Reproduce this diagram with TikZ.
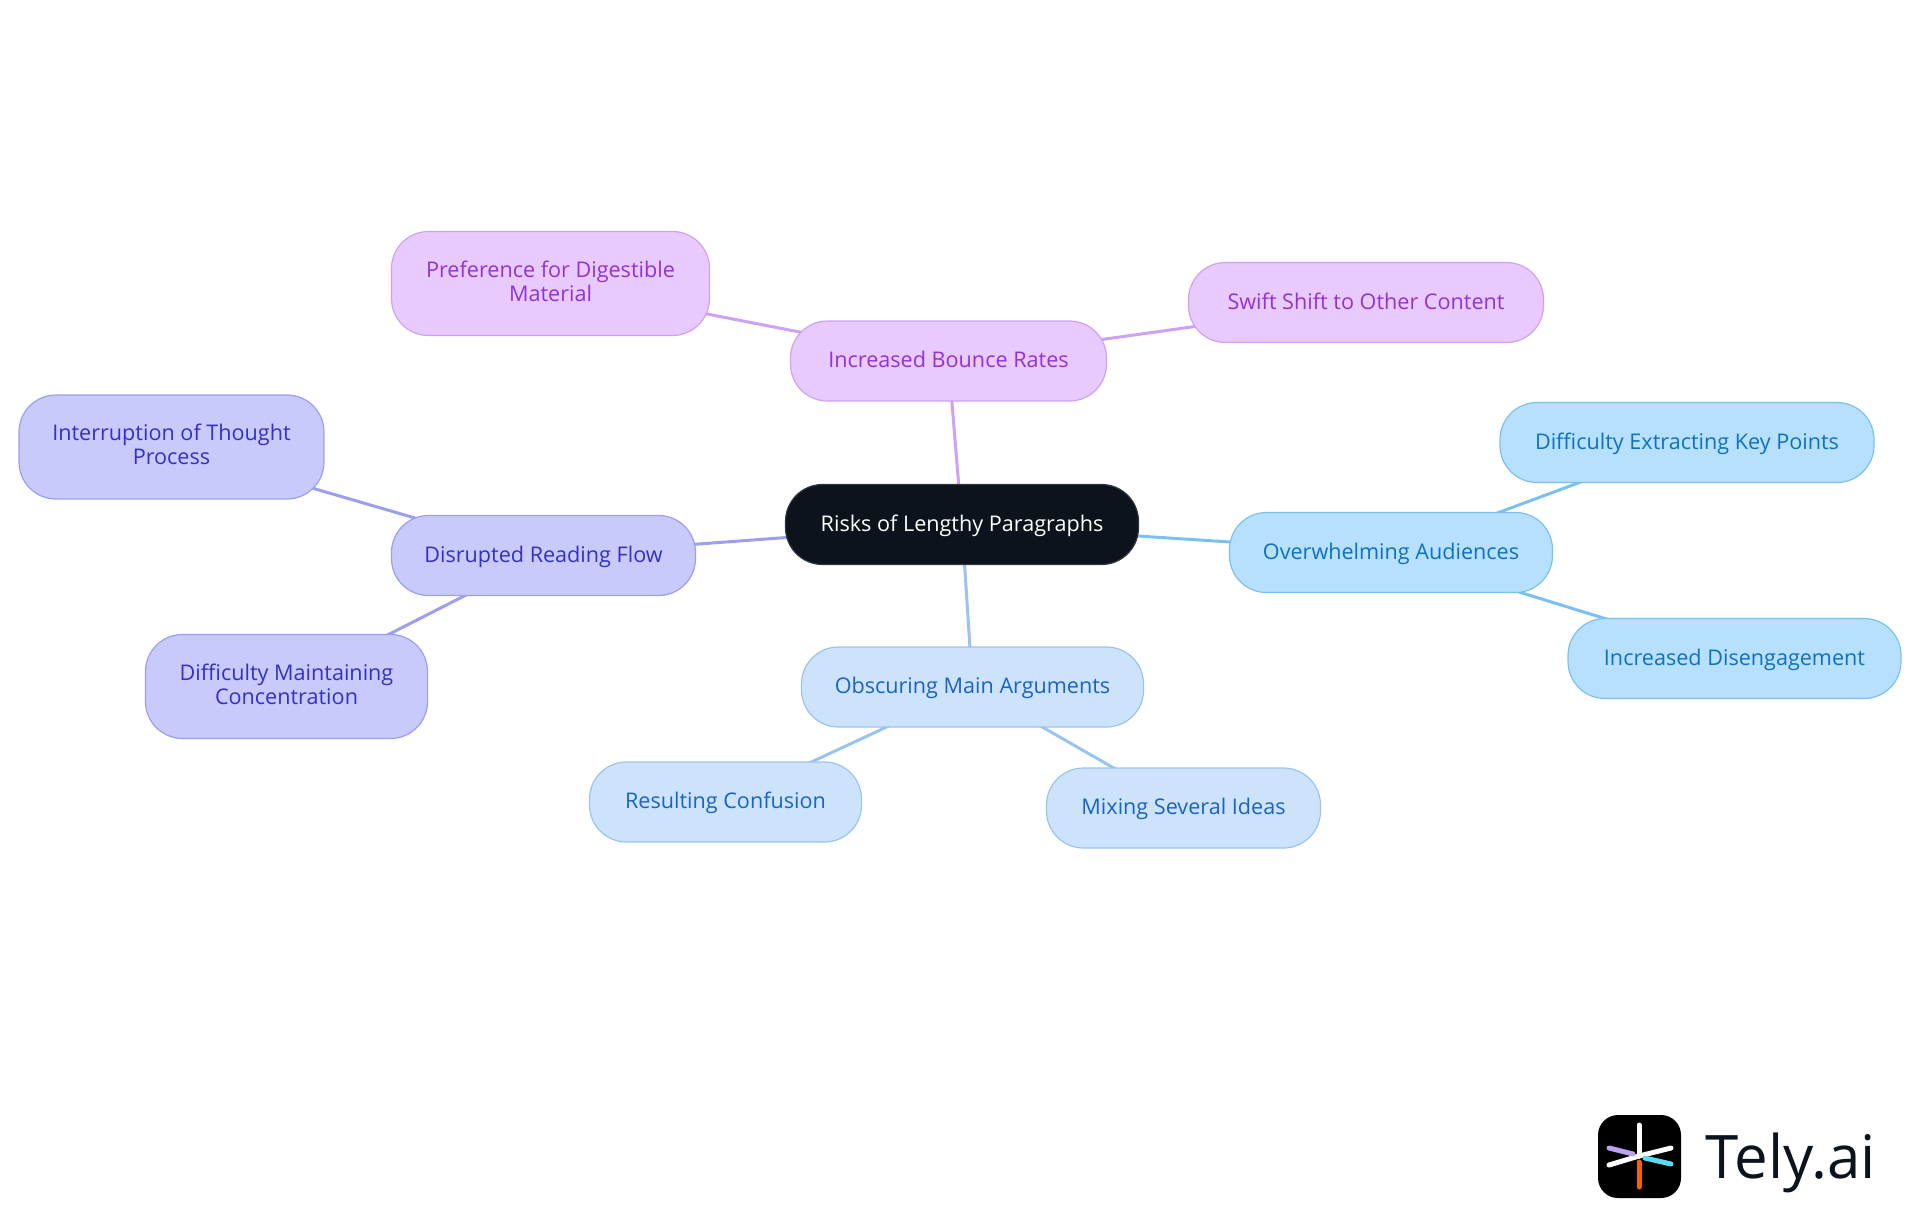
\documentclass[tikz,border=0pt]{standalone}
\usepackage{xcolor}
\usepackage{fontspec}
\setmainfont{Open Sans}
\usepackage{tikz}
\usetikzlibrary{backgrounds}
\definecolor{inkc}{HTML}{0C131C}
\definecolor{pinkbg}{HTML}{E8CAFF}
\definecolor{pinkln}{HTML}{CDA2F4}
\definecolor{pinktx}{HTML}{9333D6}
\definecolor{indbg}{HTML}{C8CAFC}
\definecolor{indln}{HTML}{9C9EF0}
\definecolor{indtx}{HTML}{3430C8}
\definecolor{skybg}{HTML}{B6E0FD}
\definecolor{skyln}{HTML}{7CC0F2}
\definecolor{skytx}{HTML}{0F72C0}
\definecolor{blubg}{HTML}{CDE3FC}
\definecolor{bluln}{HTML}{9AC4F0}
\definecolor{blutx}{HTML}{1A64C4}
\definecolor{lilac}{HTML}{B9A3F0}
\definecolor{aqua}{HTML}{5ADCEF}
\definecolor{ember}{HTML}{F2600F}
\newcommand{\tstrut}{\rule[-2.7pt]{0pt}{12pt}}
\tikzset{
  mm/.style={rounded corners=18.5pt,line width=.6pt,align=center,inner sep=0pt,font=\fontsize{10.8}{12}\selectfont,execute at begin node=\tstrut,execute at end node=\tstrut},
  wh/.style 2 args={minimum width=#1*.5pt,minimum height=#2*.5pt},
  twolines/.style={execute at begin node={\rule{0pt}{10.5pt}}},
  rootn/.style={mm,draw=inkc!85!white,fill=inkc,text=white},
  pinkn/.style={mm,draw=pinkln,fill=pinkbg,text=pinktx},
  indn/.style={mm,draw=indln,fill=indbg,text=indtx},
  skyn/.style={mm,draw=skyln,fill=skybg,text=skytx},
  blun/.style={mm,draw=bluln,fill=blubg,text=blutx},
  pinkl/.style={line width=1.5pt,pinkln},
  indl/.style={line width=1.5pt,indln},
  skyl/.style={line width=1.5pt,skyln},
  blul/.style={line width=1.5pt,bluln},
  arm/.style={line width=2.5pt,line cap=round,white}
}
\begin{document}
\begin{tikzpicture}[x=.5pt,y=-.5pt]
\useasboundingbox (0,0) rectangle (1920,1215);
\node[rootn,wh={353}{80}] (risks) at (962,524.5) {Risks of Lengthy Paragraphs};
\node[pinkn,wh={316}{80}] (bounce) at (948.5,361) {Increased Bounce Rates};
\node[pinkn,twolines,wh={318}{104}] (digest) at (550.5,283.5) {Preference for Digestible\\Material};
\node[pinkn,wh={355}{80}] (swift) at (1366,302.5) {Swift Shift to Other Content};
\node[indn,wh={304}{80}] (flow) at (543.5,555.5) {Disrupted Reading Flow};
\node[indn,twolines,wh={305}{104}] (thought) at (171.5,447) {Interruption of Thought\\Process};
\node[indn,twolines,wh={282}{104}] (concen) at (286.5,686.5) {Difficulty Maintaining\\Concentration};
\node[skyn,wh={323}{80}] (overw) at (1391,552.5) {Overwhelming Audiences};
\node[skyn,wh={374}{80}] (keypts) at (1687,442.5) {Difficulty Extracting Key Points};
\node[skyn,wh={333}{80}] (diseng) at (1734.5,658.5) {Increased Disengagement};
\node[blun,wh={342}{80}] (obscure) at (972.5,687) {Obscuring Main Arguments};
\node[blun,wh={272}{80}] (confus) at (725.5,802) {Resulting Confusion};
\node[blun,wh={274}{80}] (mixing) at (1183.5,808) {Mixing Several Ideas};
\begin{scope}[on background layer]
\draw[pinkl] (risks.center) -- (bounce.center);
\draw[pinkl] (bounce.center) -- (digest.center);
\draw[pinkl] (bounce.center) -- (swift.center);
\draw[indl] (risks.center) -- (flow.center);
\draw[indl] (flow.center) -- (thought.center);
\draw[indl] (flow.center) -- (concen.center);
\draw[skyl] (risks.center) -- (overw.center);
\draw[skyl] (overw.center) -- (keypts.center);
\draw[skyl] (overw.center) -- (diseng.center);
\draw[blul] (risks.center) -- (obscure.center);
\draw[blul] (obscure.center) -- (confus.center);
\draw[blul] (obscure.center) -- (mixing.center);
\end{scope}
\node[fill=black,rounded corners=10pt,inner sep=0pt,wh={83}{83}] (logobox) at (1639.5,1156.5) {};
\coordinate (hub) at (1639,1156);
\draw[arm] (hub) -- (1639,1125);
\draw[arm] (hub) -- (1609,1165);
\draw[arm] (hub) -- (1671,1148);
\draw[arm,lilac] (1633,1154) -- (1609,1148);
\draw[arm,aqua] (1645,1158) -- (1671,1164);
\draw[arm,ember] (1639,1162) -- (1639,1187);
\node[anchor=base west,inner sep=0pt,text=inkc,font=\fontsize{30}{32}\selectfont] (tely) at (1705,1178) {Tely.ai};
\end{tikzpicture}
\end{document}
